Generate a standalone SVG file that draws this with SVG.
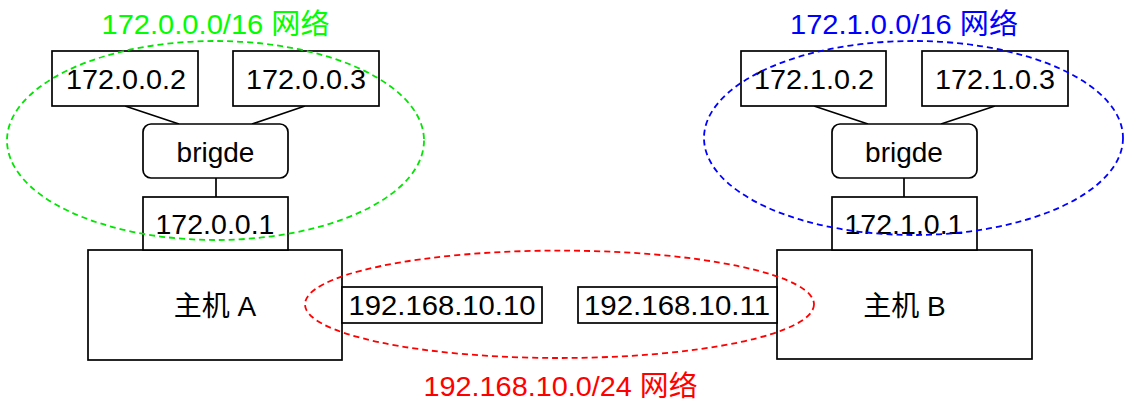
<svg xmlns="http://www.w3.org/2000/svg" width="1137" height="412" viewBox="0 0 1137 412">
<style>
.box{fill:#fff;stroke:#000;stroke-width:1.7}
.t{font-family:"Liberation Sans","Noto Sans CJK SC",Arial,sans-serif;font-size:28px;fill:#000;text-anchor:middle}
.edge{stroke:#000;stroke-width:1.7;fill:none}
.net{fill:none;stroke-width:1.8;stroke-dasharray:6 4}
</style>
<rect width="1137" height="412" fill="#fff"/>
<g id="connectors">
<line class="edge" x1="125" y1="106" x2="179" y2="124"/>
<line class="edge" x1="305" y1="106" x2="252" y2="124"/>
<line class="edge" x1="216" y1="178" x2="216" y2="197"/>
<line class="edge" x1="814" y1="106" x2="868" y2="124"/>
<line class="edge" x1="995" y1="106" x2="941" y2="124"/>
<line class="edge" x1="904" y1="178" x2="904" y2="197"/>
</g>
<g id="hostA"><rect class="box" x="88" y="250" width="254" height="110"/><text class="t" x="215" y="316">主机 A</text></g>
<g id="hostB"><rect class="box" x="777" y="250" width="255" height="109"/><text class="t" x="904.5" y="316">主机 B</text></g>
<g id="ip172-0-0-2"><rect class="box" x="52" y="51" width="146" height="55"/><text class="t" x="126" y="89" textLength="120" lengthAdjust="spacingAndGlyphs">172.0.0.2</text></g>
<g id="ip172-0-0-3"><rect class="box" x="233" y="51" width="146" height="55"/><text class="t" x="306" y="89" textLength="120" lengthAdjust="spacingAndGlyphs">172.0.0.3</text></g>
<g id="bridgeA"><rect class="box" x="143" y="124" width="145" height="54" rx="8"/><text class="t" x="215.5" y="162">brigde</text></g>
<g id="ip172-0-0-1"><rect class="box" x="143" y="197" width="145" height="53"/><text class="t" x="215" y="234" textLength="119" lengthAdjust="spacingAndGlyphs">172.0.0.1</text></g>
<g id="ip172-1-0-2"><rect class="box" x="741" y="51" width="145" height="55"/><text class="t" x="814" y="89" textLength="120" lengthAdjust="spacingAndGlyphs">172.1.0.2</text></g>
<g id="ip172-1-0-3"><rect class="box" x="922" y="51" width="146" height="55"/><text class="t" x="995" y="89" textLength="120" lengthAdjust="spacingAndGlyphs">172.1.0.3</text></g>
<g id="bridgeB"><rect class="box" x="832" y="124" width="145" height="54" rx="8"/><text class="t" x="904" y="162">brigde</text></g>
<g id="ip172-1-0-1"><rect class="box" x="832" y="197" width="145" height="53"/><text class="t" x="904" y="234" textLength="119" lengthAdjust="spacingAndGlyphs">172.1.0.1</text></g>
<g id="ip192-168-10-10"><rect class="box" x="342" y="287" width="200" height="36"/><text class="t" x="442" y="315" textLength="187" lengthAdjust="spacingAndGlyphs">192.168.10.10</text></g>
<g id="ip192-168-10-11"><rect class="box" x="578" y="287" width="199" height="36"/><text class="t" x="677" y="315" textLength="186" lengthAdjust="spacingAndGlyphs">192.168.10.11</text></g>
<g id="net172-0">
<ellipse class="net" stroke="#00e600" cx="215.5" cy="140.5" rx="208.5" ry="99.5"/>
<text class="t" style="fill:#00ff00" x="215.5" y="34" textLength="228" lengthAdjust="spacingAndGlyphs">172.0.0.0/16 网络</text>
</g>
<g id="net172-1">
<ellipse class="net" stroke="#0000ff" cx="913.5" cy="138" rx="209.5" ry="97"/>
<text class="t" style="fill:#0000ff" x="904" y="34" textLength="228" lengthAdjust="spacingAndGlyphs">172.1.0.0/16 网络</text>
</g>
<g id="net192">
<ellipse class="net" stroke="#ff0000" cx="559.5" cy="304.3" rx="254.5" ry="53.7"/>
<text class="t" style="fill:#ff0000" x="560.5" y="396" textLength="274" lengthAdjust="spacingAndGlyphs">192.168.10.0/24 网络</text>
</g>
</svg>
